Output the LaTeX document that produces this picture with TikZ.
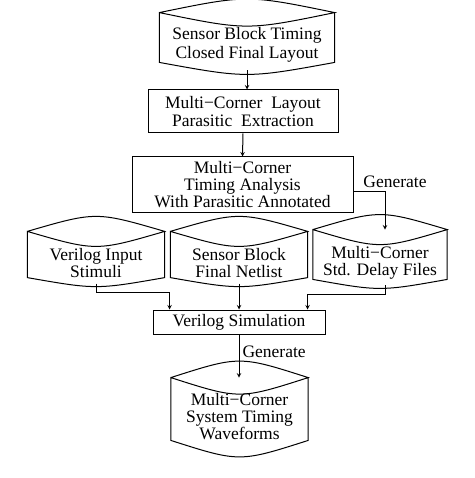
\documentclass[tikz,border=0pt]{standalone}
\usepackage{fontspec}
\setmainfont{Liberation Serif}
\usetikzlibrary{calc}

% outline of a stored-data symbol round a node: name, gap above text, lens half height, bottom sag
\newcommand{\storeoutline}[4]{%
  \coordinate (#1-top) at ($(#1.north)+(0,-#2-#3)$);
  \coordinate (#1-nw) at ($(#1.north west)+(0,-#2-#3)$);
  \coordinate (#1-ne) at ($(#1.north east)+(0,-#2-#3)$);
  \coordinate (#1-bot) at ($(#1.south)+(0,#4)$);
  \draw[outline] (#1-nw) .. controls ($(#1-top)+(0,-2*#3)$) .. (#1-ne)
    .. controls ($(#1-top)+(0,2*#3)$) .. (#1-nw) -- (#1.south west)
    .. controls ($(#1.south)+(0,2*#4)$) .. (#1.south east) -- (#1-ne);}

\tikzset{
  txt/.style={font=\fontsize{17.5}{17}\selectfont,align=center,inner sep=0pt},
  procbox/.style={txt,draw,line width=1pt},
  storebox/.style={txt},
  outline/.style={line width=1pt},
  flow/.style={line width=1pt,-stealth}
}

\begin{document}
\begin{tikzpicture}[x=1pt,y=-1pt]
		\useasboundingbox (0,0) rectangle (474,478);
		\node[storebox,minimum width=175pt,font=\fontsize{17.5}{18.5}\selectfont] (closed) at (247,45) {Sensor Block Timing\\Closed Final Layout};
		\node[procbox,minimum width=190pt,minimum height=43pt,font=\fontsize{17.5}{18}\selectfont] (extract) at (243,111.5) {Multi−Corner~~Layout\\Parasitic~~Extraction};
		\node[procbox,minimum width=221pt,minimum height=55pt] (timing) at (242.5,184.5) {Multi−Corner\\Timing Analysis\\With Parasitic Annotated};
		\node[storebox,minimum width=137pt,font=\fontsize{17.5}{16.5}\selectfont] (stimuli) at (96,263) {Verilog Input\\Stimuli};
		\node[storebox,minimum width=137pt,font=\fontsize{17.5}{16.5}\selectfont] (netlist) at (239,263) {Sensor Block\\Final Netlist};
		\node[storebox,minimum width=134pt,font=\fontsize{17.5}{16.5}\selectfont] (delay) at (380,263) {Multi−Corner\\Std. Delay Files};
		\node[procbox,minimum width=172pt,minimum height=24pt] (sim) at (239,322) {Verilog Simulation};
		\node[storebox,minimum width=137pt] (waves) at (239.5,417) {Multi−Corner\\System Timing\\Waveforms};
		\storeoutline{closed}{6}{9}{8}
		\storeoutline{stimuli}{7}{10}{6}
		\storeoutline{netlist}{7}{10}{6}
		\storeoutline{delay}{7}{10}{6}
		\storeoutline{waves}{5}{11}{11}
		\draw[flow] (closed-bot) -- (closed-bot |- extract.north);
		\draw[flow] (extract.south) -- (timing.north);
		\draw[flow] ([yshift=-7pt]timing.east) -| ([xshift=5pt]delay-top);
		\node[txt] (gen1) at (395,182) {Generate};
		\draw[flow] (stimuli-bot) -- ++(0,9) -| ([xshift=17pt]sim.north west);
		\draw[flow] (netlist-bot) -- (netlist-bot |- sim.north);
		\draw[flow] ([xshift=5pt]delay-bot) -- ++(0,9) -| ([xshift=-18pt]sim.north east);
		\draw[flow] (sim.south) -- (sim.south |- waves-top) node[midway,right,txt,xshift=3pt,yshift=4pt] (gen2) {Generate};
	\end{tikzpicture}
\end{document}
